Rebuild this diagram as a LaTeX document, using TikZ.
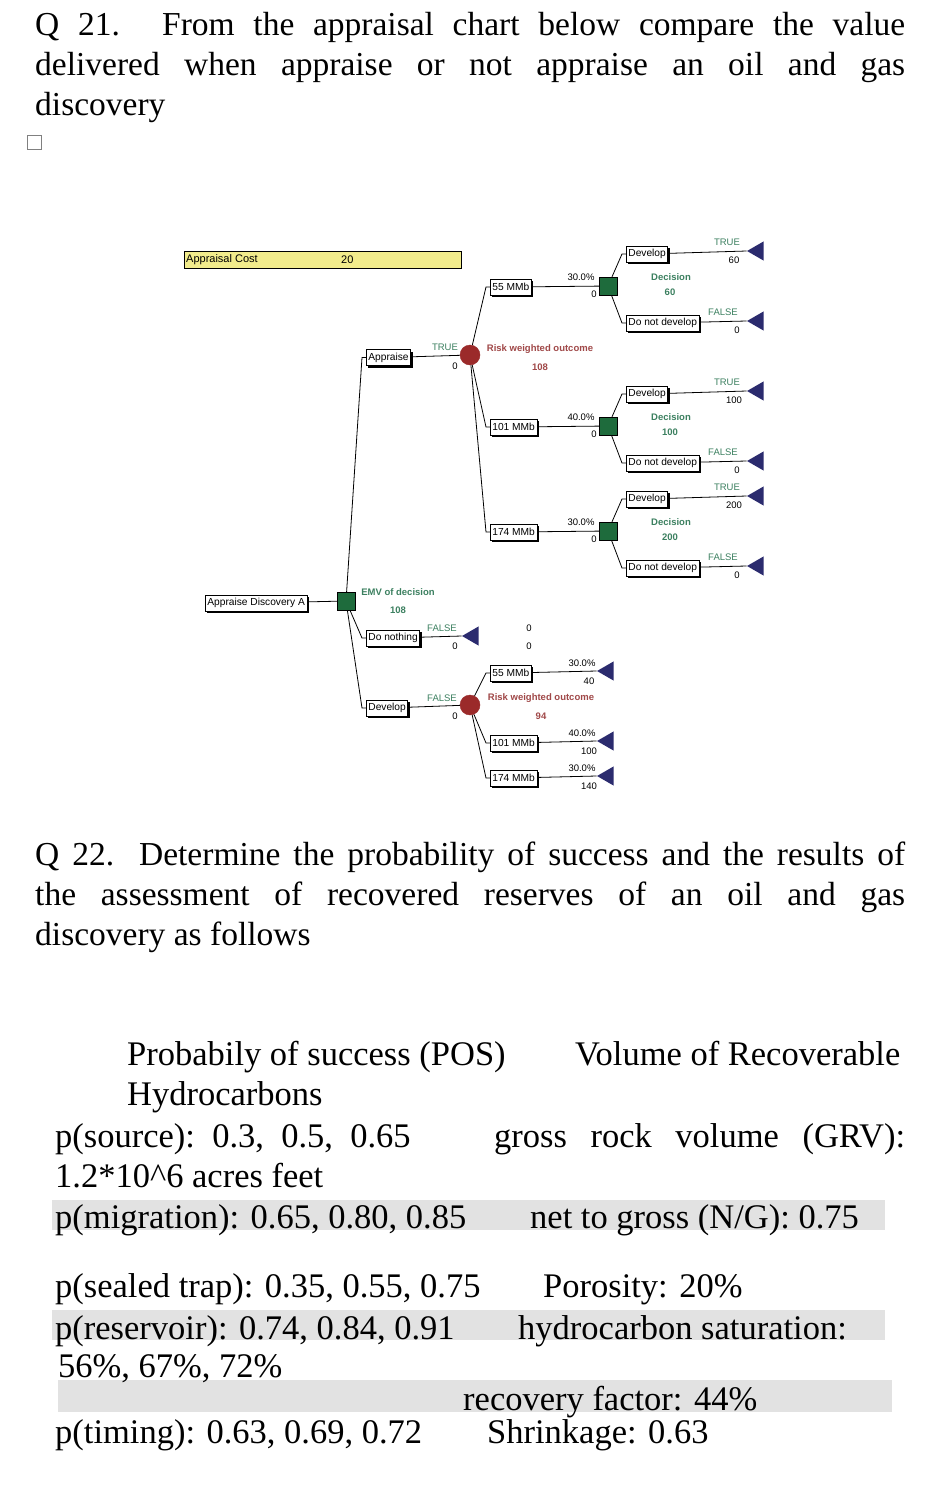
\documentclass[tikz,border=0pt]{standalone}
\usepackage{fontspec}
\setmainfont{Liberation Serif}
\newfontfamily\tsf{Liberation Sans}
\usetikzlibrary{shapes.geometric,shadows}
\definecolor{dgreen}{HTML}{1E6B3C}
\definecolor{tgreen}{HTML}{3C8060}
\definecolor{dred}{HTML}{9B2A2A}
\definecolor{lred}{HTML}{A04848}
\definecolor{navy}{HTML}{2B2B6E}
\definecolor{band}{HTML}{E2E2E2}
\definecolor{ylw}{HTML}{F2EC8C}
\begin{document}
\begin{tikzpicture}[x=1pt,y=-1pt,
  box/.style={draw,thick,fill=white,inner xsep=2pt,inner ysep=0pt,minimum height=16pt,font=\tsf\fontsize{10.2}{11}\selectfont,anchor=west,general shadow={fill=black,shadow xshift=2pt,shadow yshift=-2pt}},
  sq/.style={draw,fill=dgreen,minimum size=18pt,inner sep=0},
  ch/.style={circle,draw=dred,fill=dred,minimum size=20pt,inner sep=0},
  tri/.style={regular polygon,regular polygon sides=3,shape border rotate=90,fill=navy,minimum size=22pt,inner sep=0},
  lbl/.style={font=\tsf\fontsize{9.5}{10}\selectfont,inner sep=0},
  tf/.style={lbl,text=tgreen},
  gl/.style={font=\tsf\bfseries\fontsize{9.5}{10}\selectfont,text=tgreen,inner sep=0},
  rl/.style={font=\tsf\bfseries\fontsize{9.5}{10}\selectfont,text=lred,inner sep=0},
  ln/.style={thick},
  big/.style={font=\fontsize{33.5}{38}\selectfont,anchor=base west,inner sep=0},
  lst/.style={font=\fontsize{34.5}{38}\selectfont,anchor=base west,inner sep=0}]
\useasboundingbox (0,0) rectangle (947,1497);
\fill[white] (0,0) rectangle (947,1497);
% Q21
\node[big] (q1) at (35,35) {\makebox[870pt][s]{Q 21. From the appraisal chart below compare the value}};
\node[big] (q2) at (35,75) {\makebox[870pt][s]{delivered when appraise or not appraise an oil and gas}};
\node[big] (q3) at (35,115) {discovery};
\node[draw=gray,thick,minimum size=14pt,inner sep=0] (cb) at (34,142) {};
% tree
\node[draw,fill=ylw,minimum width=277pt,minimum height=17pt,inner sep=0] (ac) at (322.5,259.5) {};
\node[lbl,anchor=west,font=\tsf\fontsize{11}{12}\selectfont] (acl) at (186,260) {Appraisal Cost};
\node[lbl,anchor=west,font=\tsf\fontsize{11}{12}\selectfont] (acv) at (341,260) {20};

\node[box] (root) at (205,603) {Appraise Discovery A};
\node[sq] (d0) at (346,601) {};
\draw[ln] (root) -- (d0);
\node[gl] (emv) at (398,592) {EMV of decision};
\node[gl] (emvv) at (398,610) {108};
\node[box] (app) at (366,357.5) {Appraise};
\node[box] (dn) at (366,638) {Do nothing};
\node[box] (dv) at (366,708) {Develop};
\foreach \b in {app,dn,dv}{\draw[ln] (d0) -- ([xshift=-4pt]\b.west) -- (\b.west);}
% appraise branch
\node[ch] (c1) at (470,355) {};
\draw[ln] (app) -- (c1);
\node[tf] (t1) at (445,347) {TRUE};
\node[lbl] (z1) at (455,366) {0};
\node[rl] (rw1) at (540,349) {Risk weighted outcome};
\node[rl] (rw1v) at (540,367) {108};
\foreach \i/\y/\m/\p/\dv/\tv in {1/287/55 MMb/30.0\%/60/60, 2/427/101 MMb/40.0\%/100/100, 3/532/174 MMb/30.0\%/200/200}{
  \node[box] (m\i) at (490,\y) {\m};
  \draw[ln] (c1) -- ([xshift=-4pt]m\i.west) -- (m\i.west);
  \node[sq] (s\i) at (608,\y-1) {};
  \draw[ln] (m\i) -- (s\i);
  \node[lbl] (p\i) at (581,\y-10) {\p};
  \node[lbl] (pz\i) at (594,\y+7) {0};
  \node[box] (dev\i) at (626,\y-33) {Develop};
  \node[box] (nd\i) at (626,\y+36) {Do not develop};
  \draw[ln] (s\i) -- ([xshift=-4pt]dev\i.west) -- (dev\i.west);
  \draw[ln] (s\i) -- ([xshift=-4pt]nd\i.west) -- (nd\i.west);
  \node[gl] (dl\i) at (671,\y-10) {Decision};
  \node[gl] (dlv\i) at (670,\y+5) {\dv};
  \node[tri] (ta\i) at (758,\y-36) {};
  \node[tri] (tb\i) at (758,\y+34) {};
  \draw[ln] (dev\i) -- (ta\i.corner 1);
  \draw[ln] (nd\i) -- (tb\i.corner 1);
  \node[tf] (tt\i) at (727,\y-45) {TRUE};
  \node[lbl] (tv\i) at (734,\y-27) {\tv};
  \node[tf] (ff\i) at (723,\y+25) {FALSE};
  \node[lbl] (fv\i) at (737,\y+43) {0};
}
% do nothing
\node[tri] (tdn) at (473,636) {};
\draw[ln] (dn) -- (tdn.corner 1);
\node[tf] (f2) at (442,628) {FALSE};
\node[lbl] (z2) at (455,646) {0};
\node[lbl] (o1) at (529,628) {0};
\node[lbl] (o2) at (529,646) {0};
% develop
\node[ch] (c2) at (470,705) {};
\draw[ln] (dv) -- (c2);
\node[tf] (f3) at (442,698) {FALSE};
\node[lbl] (z3) at (455,716) {0};
\node[rl] (rw2) at (541,698) {Risk weighted outcome};
\node[rl] (rw2v) at (541,716) {94};
\foreach \i/\y/\m/\p/\v in {4/673/55 MMb/30.0\%/40, 5/743/101 MMb/40.0\%/100, 6/778/174 MMb/30.0\%/140}{
  \node[box] (m\i) at (490,\y) {\m};
  \draw[ln] (c2) -- ([xshift=-4pt]m\i.west) -- (m\i.west);
  \node[tri] (tr\i) at (608,\y-2) {};
  \draw[ln] (m\i) -- (tr\i.corner 1);
  \node[lbl] (p\i) at (582,\y-10) {\p};
  \node[lbl] (v\i) at (589,\y+8) {\v};
}
% Q22
\node[big] (r1) at (35,865) {\makebox[870pt][s]{Q 22. Determine the probability of success and the results of}};
\node[big] (r2) at (35,905) {\makebox[870pt][s]{the assessment of recovered reserves of an oil and gas}};
\node[big] (r3) at (35,945) {discovery as follows};
% bands
\fill[band] (52,1200) rectangle (885,1230);
\fill[band] (52,1310) rectangle (885,1340);
\fill[band] (58,1380) rectangle (892,1412);
\node[lst] (a1) at (127,1065) {Probabily of success (POS)};
\node[lst] (a2) at (575,1065) {Volume of Recoverable};
\node[lst] (a3) at (127,1105) {Hydrocarbons};
\node[lst] (a4) at (55,1147) {p(source):\ \ 0.3,\ \ 0.5,\ \ 0.65};
\node[lst] (a5) at (494,1147) {\makebox[411pt][s]{gross rock volume (GRV):}};
\node[lst] (a6) at (55,1187) {1.2*10\^{}6 acres feet};
\node[lst] (a7) at (55,1228) {p(migration): 0.65, 0.80, 0.85};
\node[lst] (a8) at (530,1228) {net to gross (N/G): 0.75};
\node[lst] (a9) at (55,1297) {p(sealed trap): 0.35, 0.55, 0.75};
\node[lst] (a10) at (543,1297) {Porosity: 20\%};
\node[lst] (a11) at (55,1339) {p(reservoir): 0.74, 0.84, 0.91};
\node[lst] (a12) at (518,1339) {hydrocarbon saturation:};
\node[lst] (a13) at (58,1377) {56\%, 67\%, 72\%};
\node[lst] (a14) at (463,1410) {recovery factor: 44\%};
\node[lst] (a15) at (55,1443) {p(timing): 0.63, 0.69, 0.72};
\node[lst] (a16) at (487,1443) {Shrinkage: 0.63};
\end{tikzpicture}
\end{document}
